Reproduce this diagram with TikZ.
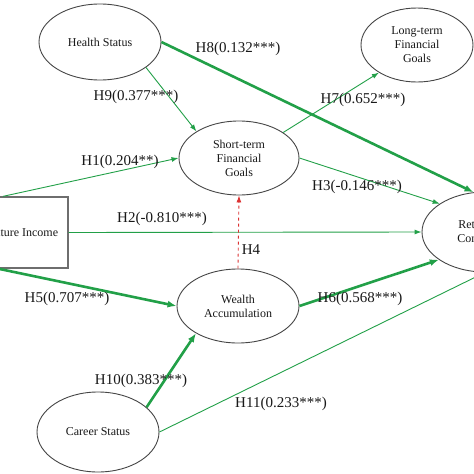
\documentclass[tikz,border=0pt]{standalone}
\usepackage{fontspec}
\setmainfont{Liberation Serif}
\usetikzlibrary{arrows.meta,shapes.geometric}
\definecolor{pgreen}{RGB}{34,160,72}
\definecolor{pred}{RGB}{220,50,50}
\definecolor{outl}{RGB}{70,70,70}
\definecolor{boxl}{RGB}{110,110,110}
\definecolor{txt}{RGB}{25,25,25}
\tikzset{
  ell/.style={draw=outl,line width=0.9pt,ellipse,inner sep=0pt,align=center,text=txt,font=\fontsize{12}{14}\selectfont},
  fbox/.style={draw=boxl,line width=1.3pt,rectangle,inner sep=0pt,text=txt,font=\fontsize{12}{14}\selectfont},
  lab/.style={text=txt,font=\fontsize{15}{18}\selectfont,inner sep=0pt},
  thin/.style={draw=pgreen,line width=0.9pt,-{Latex[length=7pt,width=5pt]}},
  thick/.style={draw=pgreen,line width=2.6pt,-{Latex[length=9pt,width=7pt]}},
  redd/.style={draw=pred,line width=0.9pt,dashed,-{Latex[length=7pt,width=5pt]}},
}
\begin{document}
\begin{tikzpicture}[x=1pt,y=-1pt]
\useasboundingbox (0,0) rectangle (474,474);
\clip (0,0) rectangle (474,474);
\fill[white] (0,0) rectangle (474,474);
% nodes
\node[ell,minimum width=122,minimum height=76] (hs) at (100,42) {Health Status};
\node[ell,minimum width=112,minimum height=74] (lt) at (417,45) {Long-term\\Financial\\Goals};
\node[ell,minimum width=120,minimum height=74] (st) at (239,158) {Short-term\\Financial\\Goals};
\node[ell,minimum width=122,minimum height=74] (wa) at (238,306) {Wealth\\Accumulation};
\node[ell,minimum width=122,minimum height=80] (cs) at (98,432) {Career Status};
\node[ell,minimum width=126,minimum height=80] (rc) at (485,232) {Retirement\\Confidence};
\node[fbox,minimum width=90,minimum height=71] (fi) at (23,232.5) {Future Income};
% edges
\draw[thick] (hs.east) -- (rc.106);
\draw[thin] (hs.-29) -- (st.148);
\draw[thin] ([xshift=-20pt]fi.north) -- (st.west);
\draw[thin] (fi.east) -- (rc.west);
\draw[thick] ([xshift=-25pt]fi.south) -- (wa.west);
\draw[redd] (wa.north) -- (st.south);
\draw[thin] (st.30) -- (lt.-144);
\draw[thin] (st.east) -- (rc.148);
\draw[thick] (wa.east) -- (rc.211);
\draw[thick] (cs.27) -- (wa.213);
\draw[thin] (cs.east) -- (rc.south);
% labels
\node[lab] (l8) at (238,49) {H8(0.132***)};
\node[lab] (l9) at (136,97) {H9(0.377***)};
\node[lab] (l1) at (120,162) {H1(0.204**)};
\node[lab] (l2) at (162,219) {H2(-0.810***)};
\node[lab] (l7) at (363,100) {H7(0.652***)};
\node[lab] (l3) at (357,187) {H3(-0.146***)};
\node[lab] (l4) at (251,250) {H4};
\node[lab] (l5) at (67,299) {H5(0.707***)};
\node[lab] (l6) at (360,299) {H6(0.568***)};
\node[lab] (l10) at (141,381) {H10(0.383***)};
\node[lab] (l11) at (281,404) {H11(0.233***)};
\end{tikzpicture}
\end{document}
